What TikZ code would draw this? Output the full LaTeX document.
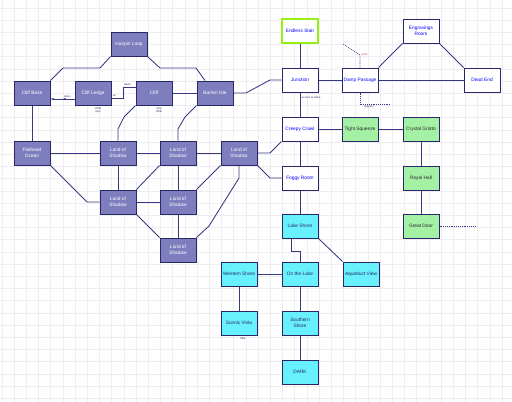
\documentclass[tikz,border=0pt]{standalone}
\usepackage{fontspec}
\setsansfont{Liberation Sans}
\usepackage{tikz}
\usetikzlibrary{positioning, arrows.meta, backgrounds}
\definecolor{roomedge}{RGB}{40, 40, 105}
\definecolor{shadowfill}{RGB}{126, 126, 190}
\definecolor{grottofill}{RGB}{164, 240, 164}
\definecolor{lakefill}{RGB}{104, 240, 252}
\definecolor{stairedge}{RGB}{150, 240, 20}
\definecolor{linkblue}{RGB}{55, 55, 130}
\definecolor{gridgray}{RGB}{238, 238, 242}
\definecolor{tagred}{RGB}{200, 60, 120}

\begin{document}
\begin{tikzpicture}[x=1pt, y=-1pt, font=\sffamily\fontsize{4.8}{5.6}\selectfont, >=Latex,
    room/.style={draw=roomedge, line width=1pt, minimum width=36pt, minimum height=24pt,
                 inner sep=1pt, align=center},
    purplebox/.style={room, fill=shadowfill, text=white},
    whitebox/.style={room, fill=white, text=blue},
    greenbox/.style={room, fill=grottofill, text=black!85},
    cyanbox/.style={room, fill=lakefill, text=roomedge},
    link/.style={draw=linkblue, line width=0.85pt},
    hint/.style={link, densely dotted, line width=0.6pt},
    tag/.style={font=\sffamily\fontsize{2.7}{3.1}\selectfont, text=roomedge, inner sep=1pt, align=center}]
  \useasboundingbox (0,0) rectangle (512,402);
  % grid
  \begin{scope}[on background layer]
  \fill[white] (0,0) rectangle (512,402);
  \foreach \k in {0,...,41}{
    \draw[gridgray, line width=0.5pt] (1.8+12.2*\k, 0) -- (1.8+12.2*\k, 402);
  }
  \foreach \k in {0,...,32}{
    \draw[gridgray, line width=0.5pt] (0, 7.8+12.2*\k) -- (512, 7.8+12.2*\k);
  }
  \end{scope}

  % cliffs
  \node[purplebox] (hairpin) at (129,44) {Hairpin Loop};
  \node[purplebox] (cliffbase) at (32,93) {Cliff Base};
  \node[purplebox] (cliffledge) at (93,93) {Cliff Ledge};
  \node[purplebox] (cliff) at (154,93) {Cliff};
  \node[purplebox] (barren) at (215,93) {Barren Isle};
  \node[purplebox] (flathead) at (32,153) {Flathead\\Ocean};
  \foreach \n/\x/\y in {shadowA/118/153, shadowB/178/153, shadowC/239/153,
                        shadowD/118/202, shadowE/178/202, shadowF/178/250}{
    \node[purplebox] (\n) at (\x,\y) {Land of\\Shadow};
  }

  % passages
  \node[whitebox, draw=stairedge, line width=1.8pt] (endless) at (300,31) {Endless Stair};
  \node[whitebox] (junction) at (300,80) {Junction};
  \node[whitebox] (damp) at (360,80) {Damp Passage};
  \node[whitebox] (engravings) at (421,31) {Engravings\\Room};
  \node[whitebox] (deadend) at (482,80) {Dead End};
  \node[whitebox] (creepy) at (300,129) {Creepy Crawl};
  \node[whitebox] (foggy) at (300,178) {Foggy Room};

  % royal puzzle
  \node[greenbox] (tight) at (360,129) {Tight Squeeze};
  \node[greenbox] (grotto) at (421,129) {Crystal Grotto};
  \node[greenbox] (royal) at (421,178) {Royal Hall};
  \node[greenbox] (greatdoor) at (421,226) {Great Door};

  % lake
  \node[cyanbox] (lakeshore) at (300,226) {Lake Shore};
  \node[cyanbox] (aqueduct) at (361,274) {Aqueduct View};
  \node[cyanbox] (western) at (239,274) {Western Shore};
  \node[cyanbox] (onlake) at (300,274) {On the Lake};
  \node[cyanbox] (scenic) at (239,323) {Scenic Vista};
  \node[cyanbox] (southern) at (300,323) {Southern\\Shore};
  \node[cyanbox] (dark) at (300,372) {DARK};

  \coordinate (northend) at (343,44);
  \coordinate (slipend) at (390,104);
  \coordinate (doorend) at (476,226);

  \node[tag, below=1pt] at ([xshift=5pt]cliffledge.south) {climb\\rope};
  \node[tag, below=1pt] at ([xshift=5pt]cliff.south) {rope\\climb};
  \node[tag, below=1pt] at ([xshift=4pt]scenic.south) {lake};

  % connectors, behind the rooms
  \begin{scope}[on background layer]
  \draw[link] (hairpin.south west) -- (100,68) -- (63,68) -- (cliffbase.north east);
  \draw[link] (hairpin.south east) -- (160,68) -- (196,68) -- ([xshift=-10pt]barren.north);
  \draw[link, -{Latex[length=3pt,sep=9pt] Latex[length=3pt]}]
        ([yshift=-6pt]cliffledge.west) -- ([yshift=-6pt]cliffbase.east)
        node[tag, pos=0.3, above=0.5pt] {down};
  \draw[link] ([yshift=-5pt]cliffledge.east) node[tag, above right=0pt] {up}
        -- (123,98) -- (123,87) node[tag, above right=0pt] {down} -- ([yshift=6pt]cliff.west);
  \draw[link] (cliff.east) -- (barren.west);
  \draw[link] (barren.east) -- (246,93) -- (270,80) -- (junction.west);
  \draw[link] (cliffbase.south) -- (flathead.north);
  \draw[link] (cliff.south west) -- (124,117) -- (118,129) -- (shadowA.north);
  \draw[link] (barren.south west) -- (185,117) -- (178,129) -- (shadowB.north);
  \draw[link] (flathead.east) -- (shadowA.west);
  \draw[link] (shadowA.east) -- (shadowB.west);
  \draw[link] (shadowB.east) -- (shadowC.west);
  \draw[link] (flathead.south east) -- (87,202) -- (shadowD.west);
  \draw[link] (shadowA.south) -- (shadowD.north);
  \draw[link] (shadowB.south west) -- (shadowD.north east);
  \draw[link] (shadowB.south) -- (shadowE.north);
  \draw[link] (shadowD.east) -- (shadowE.west);
  \draw[link] (shadowC.south west) -- (shadowE.north east);
  \draw[link] (shadowD.south east) -- (shadowF.north west);
  \draw[link] (shadowE.south) -- (shadowF.north);
  \draw[link] (shadowC.south) -- (239,178) -- (209,226) -- (shadowF.north east);
  \draw[link] (shadowC.east) -- (270,153) -- (creepy.south west);
  \draw[link] (shadowC.south east) -- (270,178) -- (foggy.west);

  \draw[link] (endless.south) -- (junction.north);
  \draw[link] (junction.east) -- (damp.west);
  \draw[link] (damp.north east) -- (engravings.south west);
  \draw[link] (engravings.south east) -- (deadend.north west);
  \draw[link] (damp.east) -- (deadend.west);
  \draw[hint] (damp.north) -- (360,55) node[tag, text=tagred, right=0pt] {north} -- (northend);
  \draw[hint] (damp.south) -- (360,104) -- (slipend)
        node[tag, pos=0.3, below=0.5pt] {slippery};
  \draw[link] (junction.south) -- (creepy.north)
        node[tag, pos=0.2, right=0.5pt] {access to stairs};
  \draw[link] (creepy.south) -- (foggy.north);
  \draw[link] (foggy.south) -- (lakeshore.north);

  \draw[link] (creepy.east) -- (tight.west);
  \draw[link] (tight.east) -- (grotto.west);
  \draw[link] (grotto.south) -- (royal.north);
  \draw[link] (royal.south) -- (greatdoor.north);
  \draw[hint] (greatdoor.east) -- (doorend);

  \draw[link] ([xshift=-9pt]lakeshore.south) -- (291,251) -- (300,251) -- (onlake.north);
  \draw[link] (lakeshore.south east) -- (aqueduct.north west);
  \draw[link] (western.east) -- (onlake.west);
  \draw[link] (western.south) -- (scenic.north);
  \draw[link] (onlake.south) -- (southern.north);
  \draw[link] (southern.south) -- (dark.north);
  \end{scope}
\end{tikzpicture}
\end{document}
